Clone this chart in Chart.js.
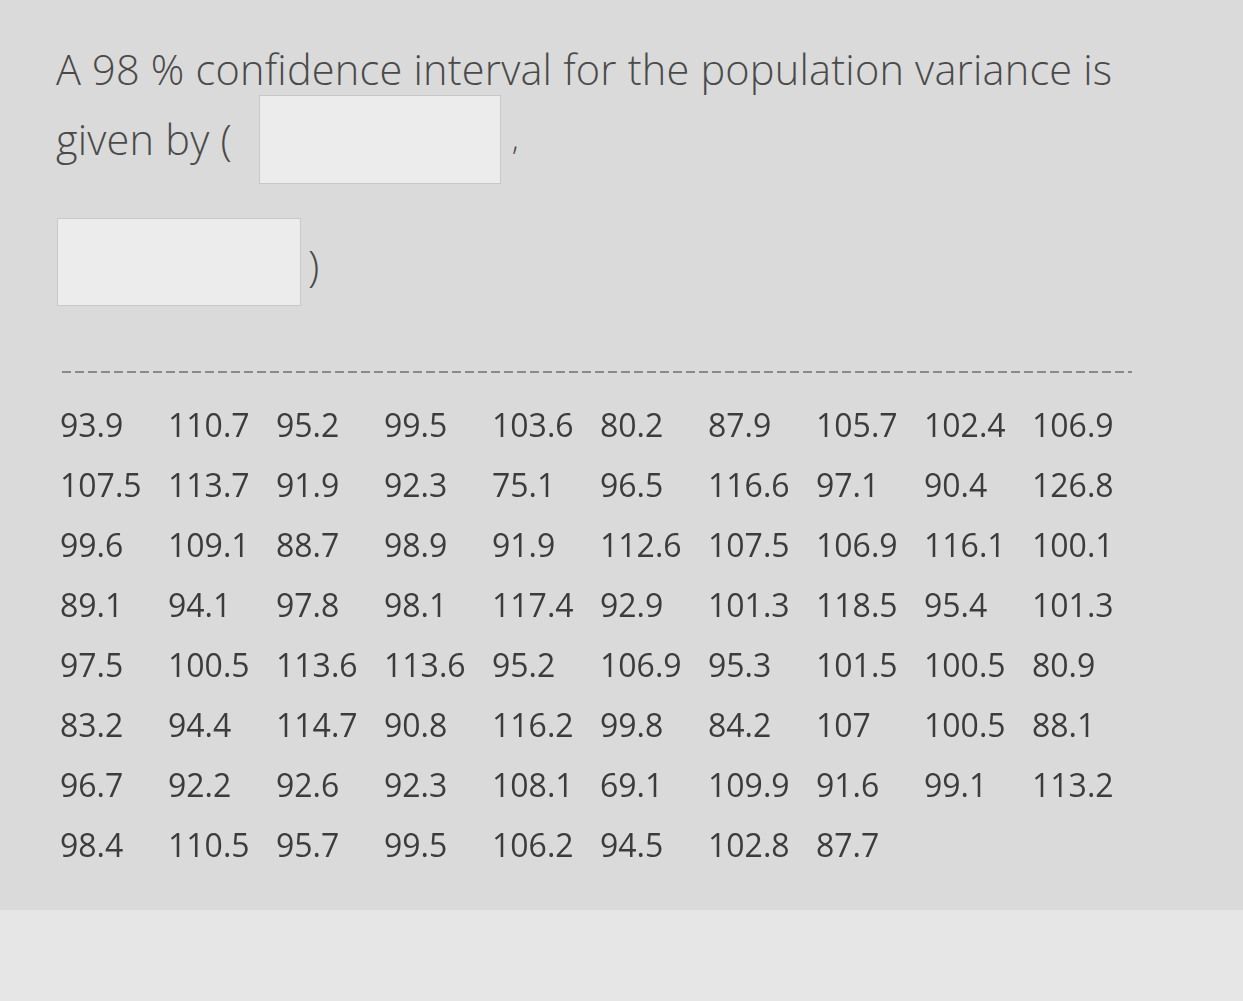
<!DOCTYPE html>
<html><head><meta charset="utf-8">
<script src="https://cdn.jsdelivr.net/npm/chart.js@4"></script>
<style>
body{margin:0;width:1243px;height:1001px;background:#e6e6e6;font-family:"Open Sans","Noto Sans",sans-serif;color:#444;overflow:hidden;position:relative}
#panel{position:absolute;left:0;top:0;width:1243px;height:910px;background:#dadada}
.t{position:absolute;font-size:41.5px;white-space:nowrap;color:#4a4a4a;font-weight:300;letter-spacing:0.2px}
.box{position:absolute;background:#ececec;border:1px solid #c8c8c8}
#dash{position:absolute;left:62px;top:371px;width:1070px;height:2px;background:repeating-linear-gradient(90deg,#8a8a8a 0 9px,transparent 9px 13px)}
#wrap{position:absolute;left:60px;top:398px;width:1108px;height:480px}
</style></head><body>
<div id="panel"></div>
<div class="t" style="left:56px;top:41px">A 98 % confidence interval for the population variance is</div>
<div class="t" style="left:56px;top:111px">given by (</div>
<div class="box" style="left:259px;top:95px;width:240px;height:87px"></div>
<div class="t" style="left:512px;top:118px;font-size:30px">,</div>
<div class="box" style="left:57px;top:218px;width:242px;height:86px"></div>
<div class="t" style="left:308px;top:237px">)</div>
<div id="dash"></div>
<div id="wrap"><canvas id="c"></canvas></div>
<script>
const row1=["93.9","110.7","95.2","99.5","103.6","80.2","87.9","105.7","102.4","106.9"];
const row2=["107.5","113.7","91.9","92.3","75.1","96.5","116.6","97.1","90.4","126.8"];
const row3=["99.6","109.1","88.7","98.9","91.9","112.6","107.5","106.9","116.1","100.1"];
const row4=["89.1","94.1","97.8","98.1","117.4","92.9","101.3","118.5","95.4","101.3"];
const row5=["97.5","100.5","113.6","113.6","95.2","106.9","95.3","101.5","100.5","80.9"];
const row6=["83.2","94.4","114.7","90.8","116.2","99.8","84.2","107","100.5","88.1"];
const row7=["96.7","92.2","92.6","92.3","108.1","69.1","109.9","91.6","99.1","113.2"];
const row8=["98.4","110.5","95.7","99.5","106.2","94.5","102.8","87.7"];
const rows=[row1,row2,row3,row4,row5,row6,row7,row8];
const pts=[];
rows.forEach((r,i)=>r.forEach((v,j)=>pts.push({x:j,y:i+0.5,label:v})));
const textPlugin={id:'txt',afterDatasetsDraw(ch){
  const ctx=ch.ctx,xs=ch.scales.x,ys=ch.scales.y;
  ctx.save();ctx.font='32px "Open Sans","Noto Sans",sans-serif';ctx.fillStyle='#3c3c3c';
  ctx.textBaseline='middle';ctx.textAlign='left';
  ch.data.datasets[0].data.forEach(p=>ctx.fillText(p.label,xs.getPixelForValue(p.x),ys.getPixelForValue(p.y)));
  ctx.restore();}};
new Chart(document.getElementById('c'),{type:'scatter',
 data:{datasets:[{data:pts,pointRadius:0}]},
 options:{responsive:true,maintainAspectRatio:false,animation:false,
  layout:{padding:0},
  plugins:{legend:{display:false},tooltip:{enabled:false}},
  scales:{x:{type:'linear',min:0,max:1108/108,display:false},
          y:{type:'linear',min:0,max:8,reverse:true,display:false}}},
 plugins:[textPlugin]});
</script>
</body></html>
